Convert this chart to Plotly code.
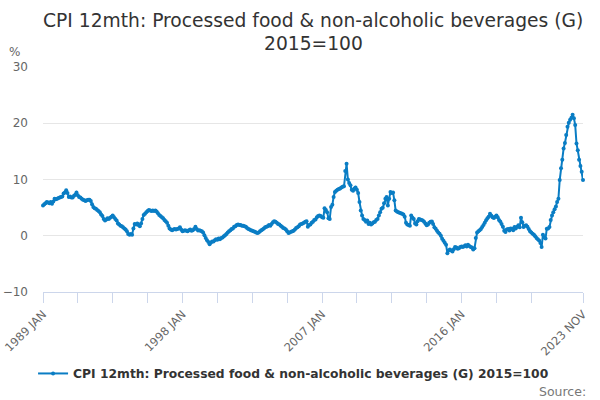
import pandas as pd
import plotly.graph_objects as go

# Monthly 12-month rates (%)
cpi_1989_1994 = [
    5.4, 5.6, 5.8, 6.0, 5.9, 5.8, 6.0, 5.7, 6.1, 6.6, 6.5, 6.6,      # 1989
    6.7, 6.8, 6.9, 7.0, 7.5, 7.7, 8.1, 7.6, 6.9, 7.0, 6.8, 6.8,      # 1990
    7.1, 7.3, 7.7, 7.2, 6.9, 6.8, 6.6, 6.4, 6.3, 6.2, 6.3, 6.4,      # 1991
    6.4, 6.2, 5.6, 5.1, 4.9, 4.8, 4.6, 4.4, 4.2, 3.8, 3.5, 3.0,      # 1992
    2.7, 2.9, 3.1, 3.0, 3.2, 3.4, 3.6, 3.3, 3.0, 2.7, 2.2, 2.0,      # 1993
    1.8, 1.7, 1.5, 1.3, 1.1, 0.8, 0.3, 0.2, 0.3, 0.2, 1.3, 2.1,      # 1994
]
cpi_1995_2000 = [
    2.0, 2.2, 1.9, 1.7, 2.2, 3.0, 3.7, 3.9, 4.2, 4.4, 4.6, 4.5,      # 1995
    4.4, 4.5, 4.4, 4.5, 4.3, 4.0, 3.7, 3.5, 3.3, 3.1, 2.8, 2.6,      # 1996
    2.3, 1.8, 1.3, 1.1, 1.0, 1.1, 1.2, 1.1, 1.2, 1.3, 1.5, 1.1,      # 1997
    0.8, 0.9, 1.0, 0.9, 0.8, 1.0, 1.1, 0.9, 1.0, 1.2, 1.6, 1.2,      # 1998
    0.95, 1.0, 0.9, 0.8, 0.6, 0.1, -0.4, -0.8, -1.1, -1.5, -1.2, -1.0,  # 1999
    -1.0, -0.8, -0.6, -0.7, -0.5, -0.6, -0.4, -0.3, -0.1, 0.1, 0.3, 0.6,  # 2000
]
cpi_2001_2006 = [
    0.8, 1.0, 1.2, 1.3, 1.6, 1.7, 1.9, 2.0, 1.9, 1.9, 1.8, 1.8,      # 2001
    1.7, 1.6, 1.4, 1.2, 1.1, 1.0, 0.9, 0.8, 0.7, 0.6, 0.5, 0.6,      # 2002
    0.8, 1.0, 1.1, 1.3, 1.5, 1.6, 1.7, 1.9, 1.8, 2.1, 2.4, 2.6,      # 2003
    2.5, 2.3, 2.1, 2.0, 1.8, 1.6, 1.4, 1.3, 1.1, 0.8, 0.5, 0.6,      # 2004
    0.7, 0.8, 0.9, 1.1, 1.4, 1.5, 1.7, 2.0, 2.1, 2.2, 2.3, 2.5,      # 2005
    2.6, 1.6, 1.9, 2.0, 2.3, 2.5, 2.8, 2.9, 3.3, 3.5, 3.6, 3.5,      # 2006
]
cpi_2007_2012 = [
    3.3, 3.2, 4.9, 4.6, 4.2, 3.1, 3.0, 5.1, 5.5, 6.9, 7.8, 8.0,      # 2007
    8.2, 8.3, 8.4, 8.6, 8.7, 8.8, 11.5, 12.8, 10.0, 9.4, 9.0, 8.2,   # 2008
    8.0, 8.4, 8.6, 8.2, 7.6, 6.0, 4.5, 3.6, 3.0, 2.8, 2.5, 2.7,      # 2009
    2.1, 2.3, 2.0, 2.2, 2.4, 2.5, 2.8, 3.0, 3.6, 4.2, 4.8, 5.0,      # 2010
    5.8, 6.6, 6.9, 5.4, 6.6, 7.8, 7.6, 7.7, 6.3, 4.5, 4.3, 4.2,      # 2011
    4.1, 4.0, 3.9, 3.8, 3.4, 2.3, 2.0, 1.9, 1.8, 3.6, 3.2, 3.0,      # 2012
]
cpi_2013_2018 = [
    2.2, 2.0, 2.6, 3.0, 2.9, 2.8, 2.7, 2.5, 2.2, 1.85, 2.0, 2.3,     # 2013
    2.5, 2.55, 2.1, 1.5, 1.25, 0.9, 0.6, 0.35, 0.0, -0.55, -0.9, -1.25,  # 2014
    -1.6, -3.1, -2.6, -2.45, -2.6, -2.8, -2.4, -2.0, -2.1, -2.3, -2.2, -2.0,  # 2015
    -1.9, -2.0, -1.85, -1.7, -1.9, -1.6, -1.8, -2.0, -2.1, -2.45, -2.2, -0.4,  # 2016
    0.6, 0.8, 1.0, 1.2, 1.55, 1.9, 2.3, 2.75, 3.1, 3.4, 3.9, 3.6,    # 2017
    3.3, 3.15, 3.4, 3.6, 3.3, 2.8, 2.55, 2.1, 1.6, 0.9, 0.65, 1.1,   # 2018
]
cpi_2019_2023 = [
    1.2, 0.95, 1.3, 1.25, 1.0, 1.55, 1.3, 1.6, 1.85, 1.5, 3.2, 2.4,  # 2019
    1.55, 1.8, 1.85, 1.6, 1.2, 0.8, 0.6, 0.35, 0.2, -0.1, -0.4, -0.6,  # 2020
    -0.85, -1.3, -2.0, 0.2, -0.3, -0.5, 1.25, 1.3, 1.55, 2.8, 3.6, 4.2,  # 2021
    4.7, 5.2, 6.0, 6.6, 9.9, 12.0, 13.5, 15.5, 16.5, 17.9, 19.4, 20.1,  # 2022
    20.6, 21.0, 21.5, 20.9, 19.7, 16.4, 15.2, 13.5, 12.4, 11.4, 9.9,    # 2023 (Jan-Nov)
]
values = (cpi_1989_1994 + cpi_1995_2000 + cpi_2001_2006
          + cpi_2007_2012 + cpi_2013_2018 + cpi_2019_2023)

start_month = "1989-01-01"
months = pd.date_range(start_month, periods=len(values), freq="MS")

# x-axis ticks every 27 months, labelled every fourth, plus final month
tick_step = 27
tick_dates = list(months[::tick_step][:15]) + [months[-1]]
label_every = 4
tick_text = []
for i, d in enumerate(tick_dates):
    if i == len(tick_dates) - 1 or i % label_every == 0:
        tick_text.append(d.strftime("%Y %b").upper())
    else:
        tick_text.append("")

series_name = "CPI 12mth: Processed food & non-alcoholic beverages (G) 2015=100"
title_line1 = "CPI 12mth: Processed food & non-alcoholic beverages (G)"
title_line2 = "2015=100"
line_color = "#0a7dc4"
font_family = "DejaVu Sans"

fig = go.Figure()
fig.add_trace(go.Scatter(
    x=months, y=values, mode="lines+markers", name=series_name,
    line=dict(color=line_color, width=2),
    marker=dict(color=line_color, size=4),
    cliponaxis=False,
))

fig.update_layout(
    width=600, height=400,
    margin=dict(l=43, r=17, t=67, b=108),
    paper_bgcolor="white", plot_bgcolor="white",
    font=dict(family=font_family, color="#666666", size=12),
    showlegend=True,
    legend=dict(orientation="h", x=0.464, xanchor="center", y=-0.362, yanchor="middle",
                font=dict(size=12.3, color="#333333", family=font_family, weight="bold"),
                bgcolor="rgba(0,0,0,0)"),
    xaxis=dict(
        range=[months[0], months[-1]],
        tickmode="array", tickvals=tick_dates, ticktext=tick_text,
        tickangle=-45, ticks="outside", ticklen=10, tickcolor="#ccd6eb",
        showline=True, linecolor="#ccd6eb", linewidth=1,
        showgrid=False, zeroline=False, automargin=False,
        tickfont=dict(size=11.5, color="#666666"),
    ),
    yaxis=dict(
        range=[-10, 30], tickmode="array", tickvals=[-10, 0, 10, 20, 30],
        showgrid=True, gridcolor="#e6e6e6", zeroline=False,
        showline=False, ticks="", ticklabelstandoff=14, automargin=False,
        tickfont=dict(size=12, color="#666666"),
    ),
    annotations=[
        dict(text=title_line1, xref="paper", yref="paper", x=0.5, y=1.2075,
             xanchor="center", yanchor="middle", showarrow=False,
             font=dict(size=18.7, color="#333333")),
        dict(text=title_line2, xref="paper", yref="paper", x=0.5, y=1.1025,
             xanchor="center", yanchor="middle", showarrow=False,
             font=dict(size=18.7, color="#333333")),
        dict(text="%", xref="paper", yref="paper", x=-0.052, y=1.068,
             xanchor="center", yanchor="middle", showarrow=False,
             font=dict(size=12, color="#666666")),
        dict(text="Source:", xref="paper", yref="paper", x=1.009, y=-0.4425,
             xanchor="right", yanchor="middle", showarrow=False,
             font=dict(size=12.5, color="#777777")),
    ],
)

fig.write_html("out.html")
